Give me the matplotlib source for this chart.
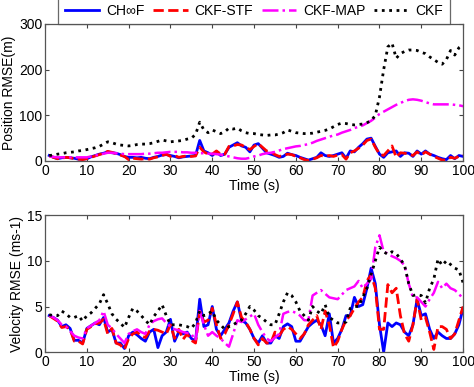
import numpy as np
import matplotlib
matplotlib.use("Agg")
from matplotlib import pyplot as plt

plt.rcParams['font.family'] = ['Liberation Sans', 'DejaVu Sans']

t = np.arange(1, 101)

labels = ["CH\u221eF", "CKF-STF", "CKF-MAP", "CKF"]

pos_chf = [12, 8, 5, 7, 8, 7, 6, 4, 4, 5,
           9, 12, 15, 17, 20, 18, 17, 14, 10, 8,
           8, 7, 8, 6, 5, 8, 10, 13, 14, 12,
           10, 7, 9, 10, 11, 12, 45, 22, 18, 12,
           20, 12, 15, 30, 35, 40, 33, 30, 20, 35,
           38, 28, 18, 15, 12, 8, 10, 17, 14, 12,
           8, 5, 2, 5, 8, 18, 12, 10, 12, 15,
           18, 6, 22, 20, 30, 38, 48, 50, 32, 15,
           8, 18, 20, 22, 10, 18, 17, 10, 22, 15,
           22, 15, 12, 8, 5, 3, 12, 5, 12, 10]
pos_stf = [12, 8, 5, 6, 8, 7, 5, 4, 3, 5,
           8, 11, 14, 17, 21, 19, 16, 13, 10, 3,
           6, 5, 4, 5, 4, 7, 9, 12, 15, 10,
           12, 8, 10, 11, 10, 11, 30, 20, 15, 15,
           22, 15, 15, 32, 33, 36, 35, 30, 25, 32,
           38, 30, 22, 20, 14, 10, 12, 15, 14, 10,
           7, 3, 1, 4, 7, 12, 10, 12, 10, 13,
           14, 4, 18, 22, 28, 35, 45, 48, 30, 15,
           12, 22, 33, 8, 18, 17, 15, 12, 20, 13,
           20, 15, 10, 6, 2, 2, 8, 6, 10, 12]
pos_map = [10, 9, 8, 8, 8, 8, 8, 8, 8, 8,
           10, 12, 14, 16, 18, 18, 17, 16, 15, 15,
           15, 15, 15, 16, 16, 17, 18, 18, 19, 20,
           20, 20, 19, 19, 18, 18, 17, 17, 16, 16,
           15, 14, 12, 10, 8, 6, 5, 5, 7, 10,
           12, 15, 17, 18, 20, 23, 26, 28, 30, 32,
           33, 35, 37, 40, 44, 47, 50, 53, 56, 58,
           62, 65, 68, 72, 75, 78, 83, 88, 95, 103,
           108, 113, 118, 123, 127, 131, 134, 135, 134, 132,
           129, 126, 124, 124, 124, 124, 124, 123, 122, 120]
pos_ckf = [12, 13, 15, 16, 18, 19, 20, 22, 23, 25,
           27, 29, 32, 37, 42, 40, 37, 35, 34, 33,
           34, 36, 37, 37, 38, 40, 43, 46, 44, 42,
           43, 44, 45, 48, 50, 58, 85, 68, 62, 68,
           64, 60, 64, 72, 70, 72, 66, 62, 60, 60,
           58, 57, 56, 57, 57, 59, 62, 68, 65, 62,
           61, 60, 60, 61, 63, 65, 67, 70, 75, 80,
           83, 82, 80, 79, 80, 81, 84, 88, 100, 140,
           200, 250, 258, 225, 235, 240, 243, 243, 242, 238,
           235, 228, 222, 216, 212, 222, 242, 232, 248, 255]

vel_chf = [4.0, 3.8, 3.5, 2.8, 3.0, 2.6, 1.3, 1.3, 1.0, 2.6,
           2.9, 3.2, 3.0, 3.8, 2.2, 2.5, 1.0, 1.0, 0.4, 1.8,
           2.2, 1.9, 1.5, 1.2, 2.2, 2.5, 0.5, 1.8, 2.2, 3.6,
           1.2, 2.2, 2.0, 2.2, 1.5, 1.2, 5.8, 2.8, 3.0, 5.0,
           2.5, 1.8, 2.5, 3.2, 4.5, 5.5, 3.5, 3.2, 2.5, 1.5,
           1.0, 1.8, 1.0, 1.0, 1.8, 1.5, 2.8, 3.1, 2.8, 1.2,
           1.2, 2.0, 2.8, 3.2, 3.5, 3.0, 1.8, 4.2, 1.0, 1.5,
           2.5, 4.0, 4.0, 6.0, 5.0, 5.2, 7.0, 9.2, 7.5, 3.0,
           0.0, 3.2, 2.8, 3.2, 3.0, 2.2, 1.8, 3.0, 5.8, 4.0,
           4.2, 2.5, 1.5, 2.2, 1.8, 1.5, 1.5, 2.0, 3.0, 4.8]
vel_stf = [4.0, 3.7, 3.4, 2.7, 2.8, 2.5, 1.2, 1.2, 0.9, 2.5,
           2.8, 3.1, 3.2, 3.6, 2.0, 2.6, 1.0, 0.8, 0.3, 1.5,
           2.0, 2.2, 1.8, 1.6, 2.3, 2.5, 2.4, 2.2, 2.0, 3.0,
           1.5, 2.5, 1.4, 2.0, 1.3, 1.0, 4.5, 3.3, 3.5, 4.8,
           3.0, 1.5, 2.0, 3.0, 4.2, 5.5, 3.8, 3.3, 2.5, 1.5,
           0.8, 1.5, 1.0, 1.0, 2.2, 1.8, 2.5, 2.8, 2.5, 2.0,
           1.5, 2.0, 3.0, 3.5, 4.0, 2.5, 4.5, 3.0, 0.5, 1.2,
           2.5, 3.5, 4.0, 4.8, 5.5, 6.0, 7.8, 8.5, 7.0, 2.5,
           2.5, 7.4, 6.5, 7.0, 4.0, 2.0, 1.2, 3.0, 5.8, 3.5,
           3.8, 2.2, 0.3, 2.8, 2.8, 2.5, 1.5, 2.0, 3.5, 5.0]
vel_map = [4.0, 3.8, 3.5, 3.0, 2.8, 2.3, 1.8, 1.6, 1.5, 2.6,
           2.9, 3.2, 3.5, 4.5, 3.0, 2.6, 2.0, 1.5, 1.0, 2.0,
           2.3, 2.5, 2.2, 2.0, 3.0, 3.4, 3.6, 3.7, 3.2, 2.8,
           2.5, 2.4, 2.2, 2.1, 2.0, 1.3, 4.5, 3.0, 1.8, 2.2,
           1.8, 1.5, 1.0, 0.6, 2.0, 3.5, 3.3, 3.6, 3.9, 4.2,
           3.0, 2.2, 1.5, 1.2, 1.6, 2.0, 4.2, 4.4, 4.5, 4.3,
           4.0, 3.5, 3.5, 6.2, 6.5, 6.8, 6.4, 6.0, 5.9, 5.8,
           6.3, 6.8, 7.0, 7.2, 7.8, 7.0, 7.5, 8.0, 11.5, 12.8,
           11.0, 10.8, 10.5, 10.3, 10.0, 9.5, 7.5, 6.0, 6.0, 5.5,
           5.0, 5.8, 6.5, 7.7, 7.0, 7.5, 7.0, 6.8, 6.4, 5.8]
vel_ckf = [4.1, 4.0, 4.0, 4.5, 4.2, 3.8, 3.8, 4.0, 3.4, 4.0,
           4.3, 4.8, 5.3, 6.3, 5.3, 4.2, 3.6, 3.2, 2.7, 3.8,
           4.8, 4.5, 4.0, 3.5, 3.0, 3.9, 4.5, 5.2, 4.0, 3.0,
           3.0, 3.0, 2.9, 2.8, 2.6, 3.2, 4.5, 4.0, 4.2, 4.5,
           3.5, 3.0, 2.5, 2.8, 3.0, 3.3, 3.5, 4.2, 5.0, 4.6,
           4.0, 3.7, 3.3, 3.0, 3.0, 4.2, 5.5, 6.5, 6.2, 5.5,
           4.5, 4.0, 3.5, 5.0, 4.5, 4.2, 5.2, 3.8, 3.5, 3.2,
           3.2, 3.3, 4.8, 5.0, 5.0, 6.0, 7.0, 8.5, 10.0, 11.5,
           11.0, 10.7, 11.0, 10.8, 10.2, 9.5, 7.5, 6.2, 6.3, 6.2,
           5.4, 7.0, 8.0, 10.2, 9.5, 10.0, 9.6, 9.2, 9.0, 7.6]

styles = [dict(color='#0000ff', linestyle='-', linewidth=2.0),
          dict(color='#ff0000', linestyle='--', linewidth=2.0),
          dict(color='#ff00ff', linestyle='-.', linewidth=1.8),
          dict(color='black', linestyle=':', linewidth=2.0)]


def style_axes(ax, ylim, yticks, ylabel):
    ax.set_xlim(0, 100)
    ax.set_ylim(*ylim)
    ax.set_xticks(range(0, 101, 10))
    ax.set_yticks(yticks)
    ax.tick_params(direction='in', top=True, right=True, length=3,
                   labelsize=10, pad=2, color='#444444')
    for s in ax.spines.values():
        s.set_color('#555555')
        s.set_linewidth(0.9)
    ax.set_xlabel('Time (s)', fontsize=10, labelpad=1)
    ax.set_ylabel(ylabel, fontsize=10, labelpad=2)


fig = plt.figure(figsize=(4.74, 3.87), dpi=100)
ax1 = fig.add_axes([0.095, 0.584, 0.882, 0.354])
ax2 = fig.add_axes([0.095, 0.090, 0.882, 0.354])

for ys, st, lab in zip([pos_chf, pos_stf, pos_map, pos_ckf], styles, labels):
    ax1.plot(t, ys, label=lab, **st)
for ys, st in zip([vel_chf, vel_stf, vel_map, vel_ckf], styles):
    ax2.plot(t, ys, **st)

style_axes(ax1, (0, 300), [0, 100, 200, 300], 'Position RMSE(m)')
style_axes(ax2, (0, 15), [0, 5, 10, 15], 'Velocity RMSE (ms-1)')

leg = ax1.legend(loc='lower center', bbox_to_anchor=(0.5, 1.0),
                 ncol=4, fontsize=10, frameon=True,
                 fancybox=False, handlelength=2.5, borderaxespad=0,
                 columnspacing=0.6, handletextpad=0.5, borderpad=0.45)
leg.get_frame().set_edgecolor('#444444')
leg.get_frame().set_linewidth(0.9)

fig.savefig('out.png', dpi=100)
